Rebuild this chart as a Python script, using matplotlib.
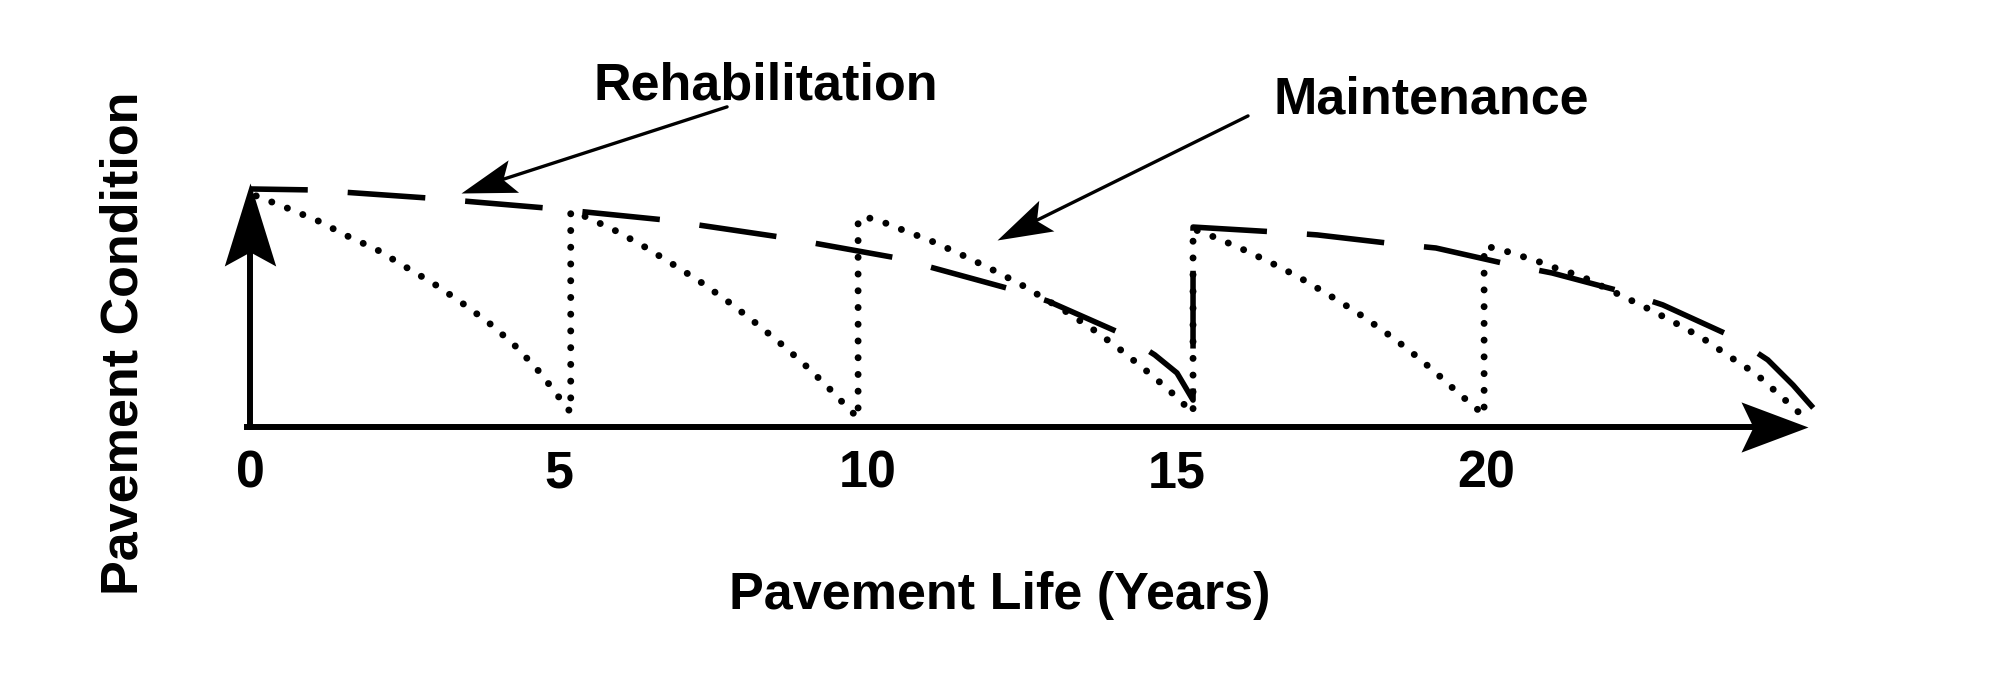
import math

import matplotlib
matplotlib.use("Agg")
import matplotlib.pyplot as plt
from matplotlib.markers import MarkerStyle
from matplotlib.path import Path
from matplotlib.transforms import Affine2D

plt.rcParams["font.family"] = ["Liberation Sans", "DejaVu Sans"]
plt.rcParams["font.weight"] = "bold"

# rehabilitation curve (dashed): years vs pavement condition
rehab_years = [0.0, 1.0, 2.88, 4.79, 6.70, 8.58, 10.47, 12.30, 12.91, 14.08,
               14.64, 15.0, 15.26, 15.26, 16.62, 17.27, 18.53, 19.19, 20.40,
               21.07, 22.23, 22.86, 24.00, 24.56, 24.97, 25.21, 25.40]
rehab_cond = [100.0, 99.6, 96.2, 92.0, 87.0, 79.8, 71.0, 58.0, 52.9, 39.5,
              30.3, 22.7, 11.3, 84.0, 81.9, 80.7, 76.9, 75.2, 68.1,
              64.7, 56.7, 51.3, 37.8, 28.2, 17.6, 10.5, 5.0]

# maintenance curve (dotted)
maint_years = [0.10, 0.60, 1.10, 1.57, 2.06, 2.52, 2.98, 3.41, 3.85, 4.26,
               4.63, 4.95, 5.11, 5.19, 5.19,
               5.40, 5.89, 6.36, 6.81, 7.27, 7.70, 8.12, 8.54, 8.93, 9.32,
               9.69, 9.84, 9.84,
               10.02, 10.28, 10.52, 11.02, 11.52, 11.99, 12.46, 13.16, 13.61,
               14.03, 14.45, 14.85, 15.26, 15.26,
               15.52, 16.02, 16.50, 16.97, 17.43, 17.88, 18.32, 18.75, 19.16,
               19.55, 19.76, 19.97, 19.97,
               20.06, 20.32, 20.57, 20.83, 21.08, 21.33, 21.57, 22.07, 22.54,
               23.01, 23.50, 23.93, 24.37, 24.77, 25.16]
maint_cond = [97.1, 92.0, 86.6, 80.3, 74.4, 67.2, 60.1, 52.5, 44.1, 34.9,
              24.8, 14.3, 8.4, 6.3, 90.3,
              88.7, 82.8, 76.1, 68.9, 61.3, 53.4, 45.0, 36.1, 27.3, 17.6,
              7.6, 3.8, 87.4,
              87.8, 85.7, 83.2, 78.2, 72.3, 66.4, 60.1, 49.2, 41.6,
              33.6, 24.8, 16.0, 5.9, 83.2,
              80.7, 75.2, 69.3, 63.0, 55.9, 48.7, 40.8, 32.4, 23.5,
              14.3, 9.7, 5.0, 75.6,
              75.6, 73.9, 71.8, 69.7, 67.2, 65.1, 63.0, 56.7, 50.8,
              44.5, 37.4, 29.8, 22.3, 13.0, 3.8]

x_ticks = [0, 5, 10, 15, 20]
tick_labels = ["0", "5", "10", "15", "20"]

rehab_label = "Rehabilitation"
rehab_text_at = (8.35, 137.4)
rehab_arrow = ((7.72, 134.5), (3.41, 98.3))   # start, tip
maint_label = "Maintenance"
maint_text_at = (19.11, 131.9)
maint_arrow = ((16.15, 130.7), (12.09, 78.6))

x_tip = 25.21
y_tip = 102.5

FS = 37.5


def head_marker(angle, width, notch):
    # notched arrow head, tip at the origin pointing along +x
    verts = [(0, 0), (-1, width / 2), (-notch, 0), (-1, -width / 2), (0, 0)]
    codes = [Path.MOVETO, Path.LINETO, Path.LINETO, Path.LINETO, Path.CLOSEPOLY]
    return MarkerStyle(Path(verts, codes), transform=Affine2D().rotate_deg(angle))


def draw_head(ax, x, y, angle, length_px, width, notch=0.8):
    ax.plot([x], [y], linestyle="none",
            marker=head_marker(angle, width, notch),
            ms=2 * length_px * 0.72, color="black", mew=0,
            clip_on=False, zorder=5)


def display_angle(ax, p0, p1):
    a = ax.transData.transform(p0)
    b = ax.transData.transform(p1)
    return math.degrees(math.atan2(b[1] - a[1], b[0] - a[0]))


fig = plt.figure(figsize=(20, 6.92), dpi=100)
ax = fig.add_axes([0.125, 0.3830, 0.825, 0.6170])
ax.set_xlim(0, 26.7)
ax.set_ylim(0, 179.4)

# curves
ax.plot(rehab_years, rehab_cond, color="black", lw=4.0,
        linestyle=(3.6, (14, 7.2)), dash_capstyle="butt", clip_on=False)
ax.plot(maint_years, maint_cond, color="black", lw=5.0,
        linestyle=(0, (0.01, 2.4)), dash_capstyle="round", clip_on=False)

# axes drawn as arrows
for side in ("top", "right"):
    ax.spines[side].set_visible(False)
for side in ("left", "bottom"):
    ax.spines[side].set_linewidth(4.3)
ax.spines["bottom"].set_bounds(-0.05, x_tip - 0.8)
ax.spines["left"].set_bounds(0, y_tip - 25)
draw_head(ax, x_tip, 0, 0, 67, 0.75, 0.82)
draw_head(ax, 0, y_tip, 90, 83, 0.62, 0.83)

ax.set_yticks([])
ax.set_xticks(x_ticks)
ax.set_xticklabels(tick_labels, fontsize=FS, fontweight="bold")
ax.tick_params(axis="x", length=0, pad=16)

ax.set_xlabel("Pavement Life (Years)", fontsize=FS, fontweight="bold")
ax.xaxis.label.set_verticalalignment("baseline")
ax.xaxis.set_label_coords(0.4545, -0.4262)
ax.set_ylabel("Pavement Condition", fontsize=FS, fontweight="bold")
ax.yaxis.label.set_verticalalignment("baseline")
ax.yaxis.set_label_coords(-0.0679, 0.1967)

# annotations
for label, pos, (start, tip) in ((rehab_label, rehab_text_at, rehab_arrow),
                                 (maint_label, maint_text_at, maint_arrow)):
    ax.text(pos[0], pos[1], label, fontsize=FS, fontweight="bold",
            ha="center", va="baseline")
    ax.annotate("", xy=tip, xytext=start,
                arrowprops=dict(arrowstyle="-", lw=2.4, color="black",
                                shrinkA=0, shrinkB=18))
    draw_head(ax, tip[0], tip[1], display_angle(ax, start, tip), 55, 0.62, 0.8)

fig.savefig("out.png", dpi=100, facecolor="white")
